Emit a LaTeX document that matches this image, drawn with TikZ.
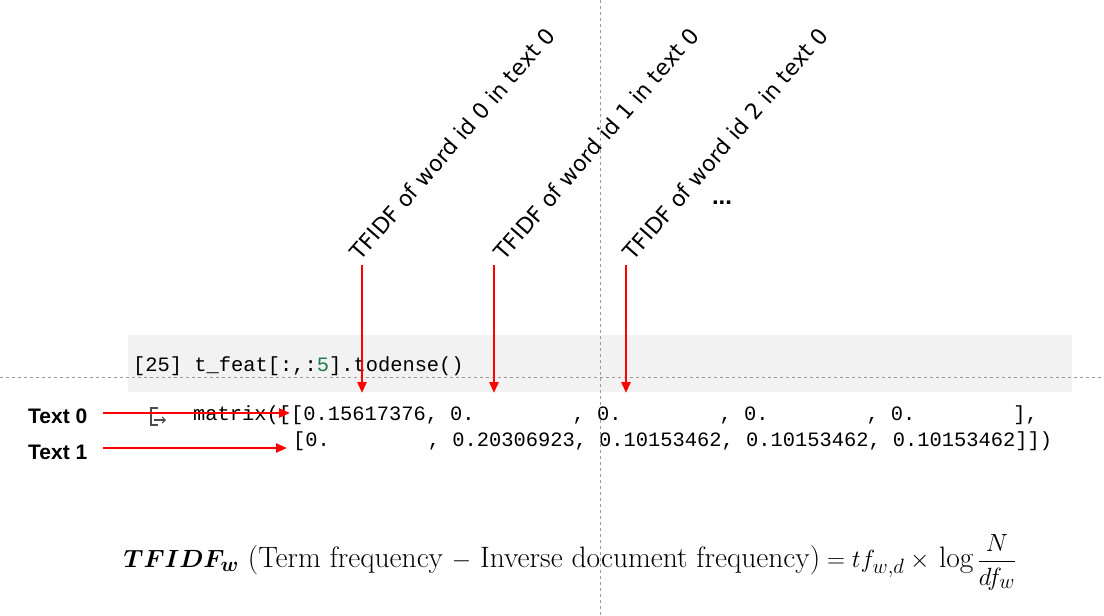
\documentclass[tikz,border=0pt]{standalone}
\usepackage{amsmath}
\usepackage{fontspec}
\setsansfont{Liberation Sans}
\setmonofont{Liberation Mono}
\newfontfamily\labfont{DejaVu Sans}
\usetikzlibrary{arrows.meta}
\definecolor{codegreen}{HTML}{1E7B4A}
\tikzset{
  redarrow/.style={red, line width=2.5pt, -{Triangle[width=9pt,length=11pt]}},
  guide/.style={gray!80, dashed, line width=1pt},
  vlabel/.style={anchor=south west, rotate=49, font=\fontsize{22}{22}\labfont, inner sep=0pt},
  code/.style={anchor=base west, inner sep=0pt, font=\fontsize{20.4}{22}\ttfamily},
  rowlabel/.style={anchor=base west, inner sep=0pt, font=\fontsize{21}{22}\sffamily\bfseries}
}
\begin{document}
\begin{tikzpicture}[x=1pt,y=-1pt]
\useasboundingbox[fill=white] (0,0) rectangle (1104,616);
\fill[black!5] (128,335) rectangle (1072,392);
\node[code] (c0) at (133,371) {[25]\ t\_feat[:,:\textcolor{codegreen}{5}].todense()};
\node[code] (c1) at (193,420) {matrix([[0.15617376,\ 0.\ \ \ \ \ \ \ \ ,\ 0.\ \ \ \ \ \ \ \ ,\ 0.\ \ \ \ \ \ \ \ ,\ 0.\ \ \ \ \ \ \ \ ],};
\node[code] (c2) at (293,446) {[0.\ \ \ \ \ \ \ \ ,\ 0.20306923,\ 0.10153462,\ 0.10153462,\ 0.10153462]])};
% output icon
\draw[black!70, line width=1.2pt] (158,408) -- (151,408) -- (151,425) -- (158,425);
\draw[black!70, line width=1.2pt, -{Straight Barb[length=3pt]}] (154,420) -- (166,420);
\draw[guide] (600,0) -- (600,616);
\draw[guide] (0,377) -- (1104,377);
\node[rowlabel] (t0) at (28,423) {Text 0};
\node[rowlabel] (t1) at (28,459) {Text 1};
\coordinate (t0e) at (290,413);
\coordinate (t1e) at (287,448);
\draw[redarrow] (103,413) -- (t0e);
\draw[redarrow] (103,448) -- (t1e);
\node[vlabel] (l0) at (361,262) {TFIDF of word id 0 in text 0};
\node[vlabel] (l1) at (505,262) {TFIDF of word id 1 in text 0};
\node[vlabel] (l2) at (634,262) {TFIDF of word id 2 in text 0};
\node[font=\fontsize{24}{24}\sffamily\bfseries] (dots) at (722,203) {...};
\coordinate (a0) at (362,393);
\coordinate (a1) at (494,393);
\coordinate (a2) at (626,393);
\draw[redarrow] (362,265) -- (a0);
\draw[redarrow] (494,265) -- (a1);
\draw[redarrow] (626,265) -- (a2);
\node[inner sep=0pt, font=\fontsize{29.5}{32}\selectfont] (f) at (570,562)
 {$\boldsymbol{TFIDF_w}\ \text{(Term frequency $-$ Inverse document frequency)} = tf_{w,d}\times\,\log\dfrac{N}{df_w}$};
\end{tikzpicture}
\end{document}
